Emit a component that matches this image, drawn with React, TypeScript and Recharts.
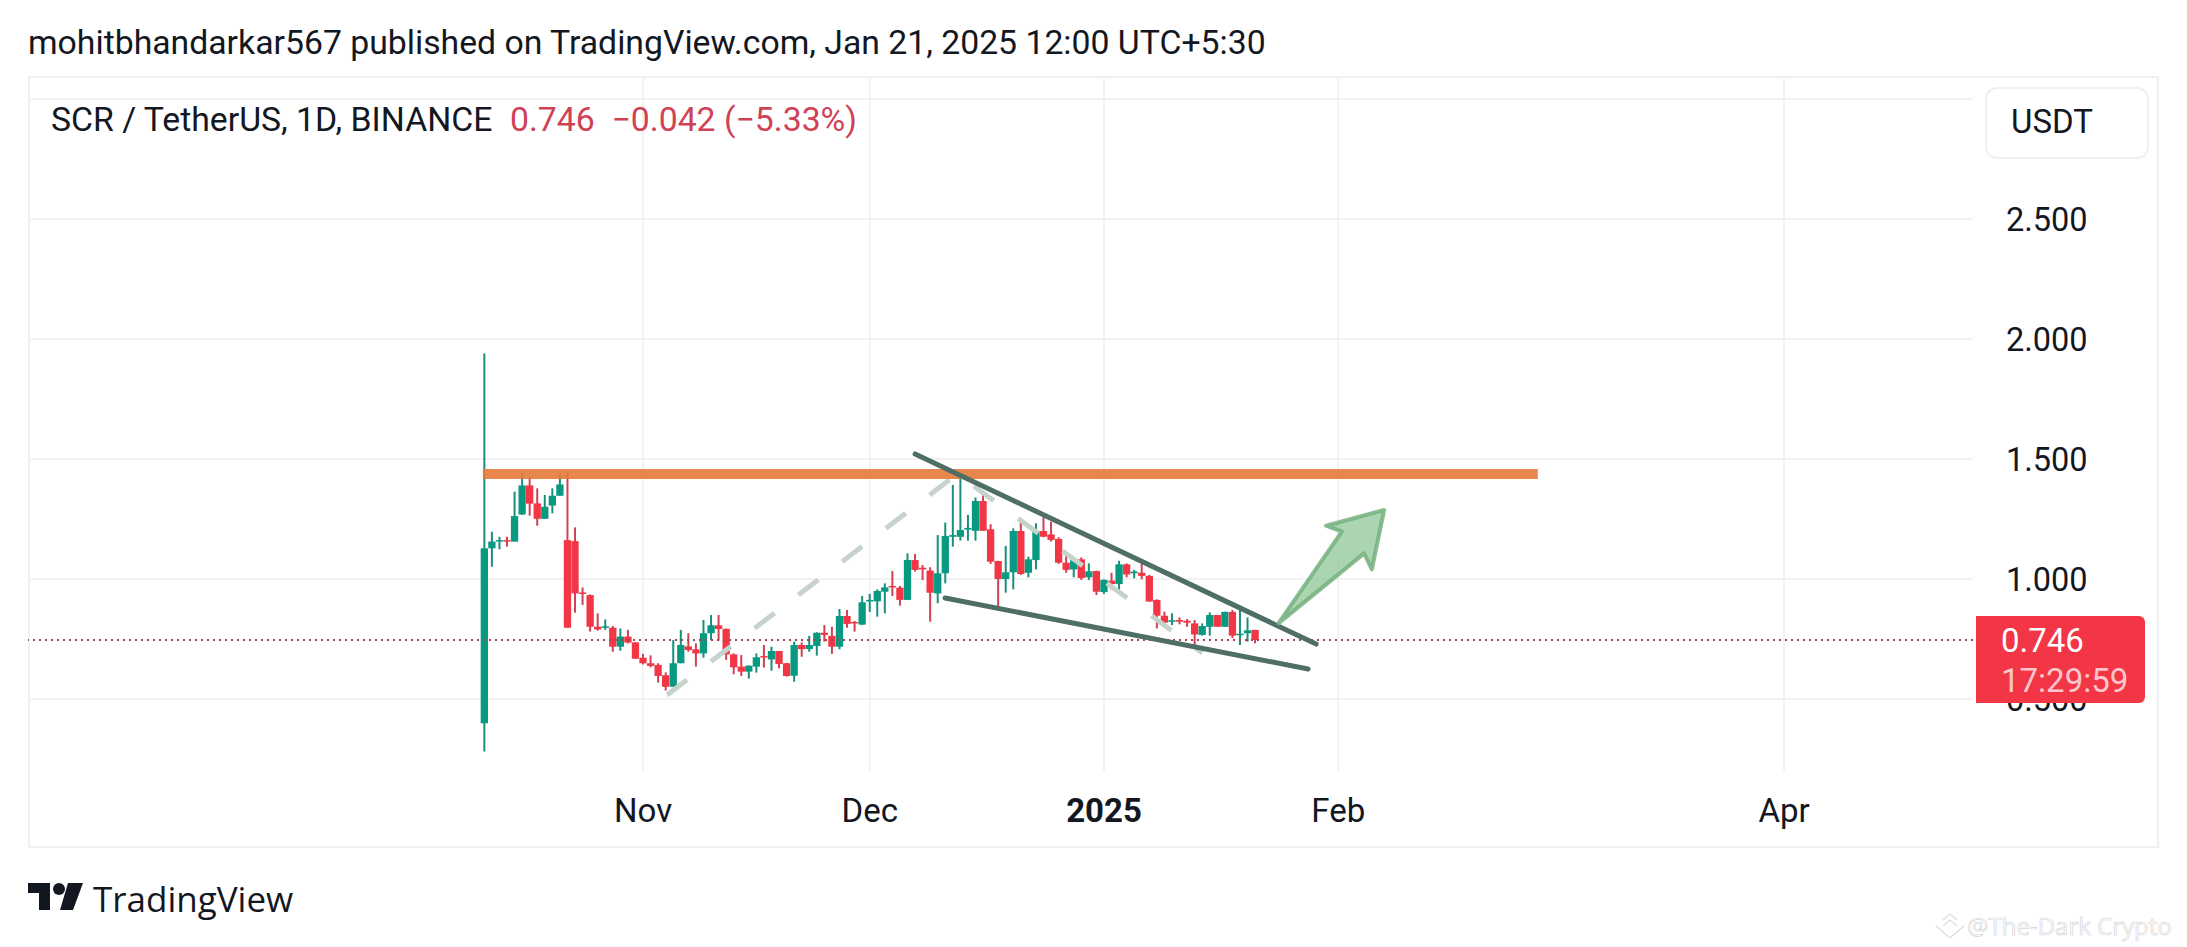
import { Bar, CartesianGrid, ComposedChart, Line, ReferenceLine, Scatter, XAxis, YAxis } from 'recharts'

const FONT = 'Roboto, sans-serif'
const INK = '#131722'
const UP = '#089981'
const DOWN = '#F23645'

// one entry per daily candle, Oct 11 2024 to Jan 21 2025
const opens = [
  0.399, 1.128, 1.157, 1.162, 1.156, 1.269, 1.39, 1.315, 1.251, 1.306, 1.347, 1.162, 1.158, 0.944, 0.933, 0.801, 0.797, 0.797, 0.718, 0.76, 0.736,
  0.672, 0.649, 0.642, 0.599, 0.551, 0.649, 0.719, 0.707, 0.69, 0.774, 0.807, 0.792, 0.686, 0.635, 0.614, 0.635, 0.679, 0.665, 0.7, 0.649,
  0.597, 0.725, 0.708, 0.721, 0.776, 0.763, 0.718, 0.846, 0.821, 0.81, 0.907, 0.907, 0.947, 0.971, 0.964, 0.913, 1.079, 1.047, 1.035, 0.94,
  1.024, 1.176, 1.176, 1.206, 1.201, 1.325, 1.207, 1.075, 1.0, 1.028, 1.2, 1.026, 1.079, 1.2, 1.186, 1.167, 1.068, 1.04, 1.082, 1.007,
  1.033, 0.946, 0.993, 0.979, 1.061, 1.024, 1.026, 1.013, 0.913, 0.847, 0.822, 0.829, 0.826, 0.815, 0.767, 0.801, 0.85, 0.801, 0.863, 0.767, 0.774, 0.788,
]
const highs = [
  1.94, 1.197, 1.176, 1.176, 1.364, 1.443, 1.426, 1.378, 1.35, 1.378, 1.44, 1.447, 1.215, 0.965, 0.936, 0.857, 0.832, 0.804, 0.794, 0.788, 0.736,
  0.688, 0.682, 0.649, 0.611, 0.746, 0.788, 0.774, 0.732, 0.829, 0.85, 0.85, 0.794, 0.69, 0.683, 0.639, 0.69, 0.725, 0.718, 0.7, 0.651,
  0.739, 0.736, 0.763, 0.778, 0.808, 0.801, 0.875, 0.871, 0.825, 0.929, 0.938, 0.957, 0.982, 1.033, 0.971, 1.107, 1.104, 1.058, 1.049, 1.183,
  1.235, 1.392, 1.444, 1.267, 1.34, 1.357, 1.228, 1.076, 1.138, 1.211, 1.239, 1.093, 1.232, 1.263, 1.239, 1.174, 1.104, 1.09, 1.09, 1.065,
  1.035, 0.999, 1.026, 1.076, 1.065, 1.038, 1.063, 1.017, 0.915, 0.864, 0.857, 0.84, 0.833, 0.829, 0.815, 0.861, 0.85, 0.864, 0.871, 0.878, 0.84, 0.788,
]
const lows = [
  0.281, 1.051, 1.124, 1.135, 1.156, 1.267, 1.264, 1.222, 1.251, 1.274, 1.347, 0.797, 0.86, 0.892, 0.781, 0.785, 0.788, 0.697, 0.701, 0.732, 0.667,
  0.644, 0.632, 0.568, 0.535, 0.551, 0.649, 0.697, 0.635, 0.672, 0.746, 0.743, 0.663, 0.603, 0.596, 0.585, 0.61, 0.631, 0.618, 0.628, 0.593,
  0.572, 0.676, 0.697, 0.681, 0.739, 0.688, 0.707, 0.797, 0.781, 0.808, 0.863, 0.843, 0.857, 0.929, 0.889, 0.913, 1.031, 0.996, 0.822, 0.899,
  0.982, 1.135, 1.16, 1.16, 1.16, 1.201, 1.063, 0.874, 0.943, 0.957, 1.017, 1.007, 1.04, 1.174, 1.156, 1.063, 1.026, 1.007, 0.996, 0.996,
  0.933, 0.938, 0.957, 0.954, 1.007, 1.003, 0.999, 0.906, 0.794, 0.804, 0.808, 0.811, 0.801, 0.715, 0.764, 0.764, 0.801, 0.801, 0.753, 0.725, 0.739, 0.732,
]
const closes = [
  1.128, 1.156, 1.162, 1.157, 1.262, 1.39, 1.314, 1.251, 1.301, 1.347, 1.394, 0.797, 0.94, 0.939, 0.801, 0.79, 0.803, 0.718, 0.76, 0.735, 0.668,
  0.649, 0.638, 0.596, 0.551, 0.649, 0.725, 0.704, 0.69, 0.774, 0.807, 0.792, 0.686, 0.632, 0.614, 0.639, 0.674, 0.674, 0.7, 0.646, 0.596,
  0.725, 0.708, 0.725, 0.776, 0.767, 0.718, 0.846, 0.813, 0.815, 0.903, 0.913, 0.95, 0.965, 0.965, 0.913, 1.079, 1.038, 1.04, 0.943, 1.024,
  1.179, 1.183, 1.204, 1.213, 1.325, 1.201, 1.072, 1.0, 1.028, 1.2, 1.021, 1.082, 1.2, 1.176, 1.163, 1.068, 1.038, 1.082, 1.004, 1.032,
  0.947, 0.996, 0.979, 1.061, 1.019, 1.031, 1.013, 0.906, 0.847, 0.818, 0.828, 0.822, 0.818, 0.769, 0.804, 0.85, 0.801, 0.863, 0.764, 0.772, 0.786, 0.746,
]

// days counted from Nov 1 2024
const firstCandleDay = -21
const timeTicks = [0, 30, 61, 92, 151]
const timeLabels = ['Nov', 'Dec', '2025', 'Feb', 'Apr']
const priceTicks = [0.5, 1, 1.5, 2, 2.5, 3]

// drawings, in day / price
const resistance = [
  { x: -21.2, y: 1.4375 },
  { x: 118.4, y: 1.4375 },
]
const upperTrend = [
  { x: 36, y: 1.521 },
  { x: 89.07, y: 0.729 },
]
const lowerTrend = [
  { x: 39.97, y: 0.921 },
  { x: 88, y: 0.625 },
]
const zigzag = [
  { day: 3.18, zig: 0.517 },
  { day: 41.56, zig: 1.4375 },
  { day: 74, zig: 0.692 },
]
const arrow = [
  { day: 84.08, tip: 0.815 },
  { day: 92.47, tip: 1.197 },
  { day: 90.39, tip: 1.222 },
  { day: 98.07, tip: 1.2875 },
  { day: 96.44, tip: 1.04 },
  { day: 95.42, tip: 1.107 },
]

const candles = opens.map((open, i) => ({
  day: firstCandleDay + i,
  open,
  close: closes[i],
  range: [lows[i], highs[i]],
}))

function Candle(props: any) {
  const { x, y, width, height, payload } = props
  const [low, high] = payload.range
  const perUnit = height / (high - low)
  const top = y + (high - Math.max(payload.open, payload.close)) * perUnit
  const bottom = y + (high - Math.min(payload.open, payload.close)) * perUnit
  const up = payload.close >= payload.open
  const cx = x + width / 2
  return (
    <g>
      <rect x={cx - 1} y={y} width={2} height={height} fill={up ? '#1a8f7c' : '#cf4256'} />
      <rect x={cx - 3.65} y={top} width={7.3} height={Math.max(bottom - top, 1.5)} fill={up ? UP : DOWN} />
    </g>
  )
}

function TimeTick({ x, y, payload }: any) {
  const i = timeTicks.indexOf(payload.value)
  return (
    <text
      x={x}
      y={y}
      dy={43}
      textAnchor="middle"
      fontFamily={FONT}
      fontSize={33}
      fontWeight={timeLabels[i] === '2025' ? 700 : 400}
      fill={INK}
    >
      {timeLabels[i]}
    </text>
  )
}

function ArrowShape({ points }: any) {
  const d = points.map((p: any) => `${p.x},${p.y}`).join(' ')
  return <polygon points={d} fill="#8fc596" fillOpacity={0.75} stroke="#74b07e" strokeOpacity={0.85} strokeWidth={4} strokeLinejoin="round" />
}

const abs = (style: React.CSSProperties): React.CSSProperties => ({ position: 'absolute', whiteSpace: 'pre', fontFamily: FONT, ...style })

export default function App() {
  return (
    <div style={{ position: 'absolute', left: 0, top: 0, width: 2187, height: 947, background: '#fff', overflow: 'hidden' }}>
      <div style={abs({ left: 28, top: 24, fontSize: 33.75, lineHeight: '38px', color: INK })}>
        mohitbhandarkar567 published on TradingView.com, Jan 21, 2025 12:00 UTC+5:30
      </div>
      <div style={{ position: 'absolute', left: 28, top: 76, width: 2131, height: 772, border: '2px solid #f0f0f0', boxSizing: 'border-box' }} />

      <div style={{ position: 'absolute', left: 0, top: 0 }}>
        <ComposedChart width={2187} height={947} data={candles} margin={{ left: 28, right: 0, top: 76, bottom: 0 }}>
          <CartesianGrid stroke="#f2f2f2" strokeWidth={2} horizontalValues={priceTicks} verticalValues={timeTicks} />
          <XAxis
            dataKey="day"
            type="number"
            domain={[-81.4, 176]}
            ticks={timeTicks}
            tick={<TimeTick />}
            tickLine={false}
            axisLine={false}
            interval={0}
            height={176}
            allowDataOverflow
          />
          <YAxis
            orientation="right"
            type="number"
            domain={[0.2, 3.096]}
            ticks={priceTicks}
            tickFormatter={(v: number) => (v === 3 ? '' : v.toFixed(3))}
            tick={{ fontFamily: FONT, fontSize: 32.5, fill: INK }}
            tickLine={false}
            axisLine={false}
            tickMargin={27}
            width={214}
            allowDataOverflow
          />
          <Line data={zigzag} dataKey="zig" stroke="#c6d3cd" strokeWidth={5} strokeDasharray="25 30" dot={false} activeDot={false} isAnimationActive={false} />
          <ReferenceLine y={0.746} stroke="#a8424f" strokeWidth={2} strokeDasharray="2 4" />
          <Bar dataKey="range" barSize={7.3} shape={<Candle />} isAnimationActive={false} />
          <ReferenceLine segment={resistance} stroke="#e57a3a" strokeOpacity={0.9} strokeWidth={10} />
          <Scatter data={arrow} dataKey="tip" shape={() => null} line={<ArrowShape />} isAnimationActive={false} />
          <ReferenceLine segment={upperTrend} stroke="#4f6e66" strokeWidth={5} strokeLinecap="round" />
          <ReferenceLine segment={lowerTrend} stroke="#4f6e66" strokeWidth={5} strokeLinecap="round" />
        </ComposedChart>
      </div>

      <div style={abs({ left: 51, top: 101, fontSize: 33.75, lineHeight: '38px', color: INK })}>SCR / TetherUS, 1D, BINANCE</div>
      <div style={abs({ left: 510, top: 101, fontSize: 33.75, lineHeight: '38px', color: '#cf4256' })}>0.746  −0.042 (−5.33%)</div>

      <div
        style={{
          position: 'absolute', left: 1985, top: 87, width: 164, height: 72, boxSizing: 'border-box',
          background: '#fff', border: '2px solid #f0f0f0', borderRadius: 12,
        }}
      />
      <div style={abs({ left: 2011, top: 103, fontSize: 33, lineHeight: '38px', color: INK })}>USDT</div>

      <div style={{ position: 'absolute', left: 1976, top: 616, width: 169, height: 87, background: DOWN, borderRadius: '0 6px 6px 0' }} />
      <div style={abs({ left: 2001, top: 622, fontSize: 33, lineHeight: '38px', color: '#fff' })}>0.746</div>
      <div style={abs({ left: 2001, top: 662, fontSize: 33, lineHeight: '38px', color: '#fcc6cc' })}>17:29:59</div>

      <svg style={{ position: 'absolute', left: 28, top: 883 }} width={56} height={28}>
        <path d="M0 0H22V27H11V10H0Z" fill={INK} />
        <circle cx={31} cy={6} r={6} fill={INK} />
        <path d="M40 0H55L45 27H32Z" fill={INK} />
      </svg>
      <div style={abs({ left: 93, top: 878, fontSize: 35, lineHeight: '42px', fontFamily: '"Open Sans", sans-serif', color: INK })}>TradingView</div>

      <svg style={{ position: 'absolute', left: 1935, top: 912 }} width={30} height={30}>
        <path d="M1 14L8 20M8 8L15 2L22 8M8 14L15 8L22 14M29 14L22 20M8 20L15 26L22 20" fill="none" stroke="#dcdcdc" strokeWidth={1.3} />
      </svg>
      <div style={abs({ left: 1967, top: 911, fontSize: 24, lineHeight: '30px', fontFamily: '"Open Sans", sans-serif', color: '#fff', WebkitTextStroke: '0.7px #d6d6d6' })}>@The-Dark Crypto</div>
    </div>
  )
}
